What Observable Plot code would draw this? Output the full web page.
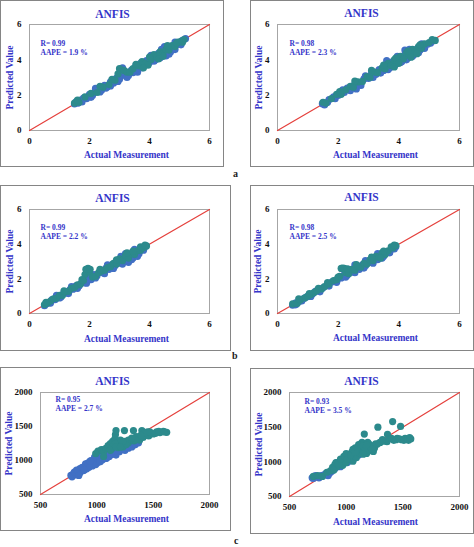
<!DOCTYPE html>
<html>
<head>
<meta charset="utf-8">
<script src="https://cdn.jsdelivr.net/npm/d3@7"></script>
<script src="https://cdn.jsdelivr.net/npm/@observablehq/plot@0.6"></script>
<style>
  body { margin: 0; background: #fff; }
  #page { position: relative; width: 474px; height: 547px; overflow: hidden; background: #fff;
          font-family: "Liberation Serif", "Times New Roman", serif; }
  .panel { position: absolute; }
  .panel svg { display: block; }
  .box { position: absolute; box-sizing: border-box; border: 1.5px solid #858585; pointer-events: none; }
  .tag { position: absolute; font-weight: bold; font-size: 10px; line-height: 10px; color: #222; }
</style>
</head>
<body>
<div id="page"></div>
<script>
// Labels shared by all six panels
const title = "ANFIS";
const xLabel = "Actual Measurement";
const yLabel = "Predicted Value";
const smallTicks = [0, 2, 4, 6];
const largeTicks = [500, 1000, 1500, 2000];
const smallDomain = [0, 6];
const largeDomain = [500, 2000];
const statsR = ["0.99", "0.98", "0.99", "0.98", "0.95", "0.93"];
const statsAAPE = ["1.9", "2.3", "2.2", "2.5", "2.7", "3.5"];
const panelTags = ["a", "b", "c"];

// Panel 1 (actual, predicted)
const p1Blue = [[1.50,1.50],[1.55,1.62],[1.62,1.55],[1.70,1.72],[1.80,1.84],[1.90,1.80],[2.00,2.04],[2.10,1.98],[2.20,2.22],[2.30,2.36],[2.40,2.28],[2.50,2.55],[2.60,2.48],[2.70,2.76],[2.80,2.68],[2.90,2.96],[3.00,2.90],[3.06,3.42],[3.10,3.12],[3.20,3.22],[3.30,3.12],[3.40,3.42],[3.50,3.46],[3.60,3.56],[3.70,3.80],[3.80,3.70],[3.90,3.96],[4.00,3.86],[4.10,4.12],[4.20,4.00],[4.30,4.36],[4.40,4.20],[4.50,4.52],[4.60,4.40],[4.70,4.66],[4.80,4.70],[4.90,4.86],[5.00,4.96],[5.10,5.10],[4.40,4.60],[3.60,3.30],[2.70,2.52],[4.55,4.22],[4.70,4.45],
  [1.75,1.62],[2.05,1.88],[2.35,2.18],[2.55,2.40],[2.95,2.78],[3.25,3.00],[3.45,3.28],[3.75,3.55],[3.95,3.75],[4.15,3.92],[4.35,4.10],[4.65,4.32],[4.85,4.58],[5.05,4.85],[3.10,3.55],[2.20,2.38],[3.55,3.70],[4.05,4.25],[4.50,4.75],[4.85,5.00],[5.20,5.20]];
const p1Teal = [[1.50,1.55],[1.65,1.60],[1.85,1.90],[2.05,2.10],[2.25,2.15],[2.45,2.45],[2.65,2.60],[2.85,2.85],[2.95,3.20],[3.00,3.50],[3.15,3.40],[3.25,3.30],[3.35,3.30],[3.45,3.50],[3.65,3.65],[3.75,3.90],[3.85,3.80],[4.05,4.00],[4.15,4.30],[4.25,4.15],[4.35,4.45],[4.45,4.35],[4.55,4.60],[4.65,4.55],[4.75,4.80],[4.85,4.75],[4.95,5.00],[5.05,5.05],[5.15,5.15],[4.30,4.05],[3.95,3.70],
  [1.60,1.72],[2.35,2.50],[2.75,2.90],[3.55,3.75],[4.00,4.15],[4.60,4.80],[4.90,4.95],[5.10,5.00],[3.80,3.55],[4.45,4.20]];

// Panel 2
const p2Blue = [[1.48,1.52],[1.55,1.45],[1.70,1.75],[1.85,1.90],[2.00,1.98],[2.20,2.15],[2.30,2.40],[2.45,2.38],[2.55,2.62],[2.70,2.65],[2.85,2.92],[3.00,2.95],[3.10,3.20],[3.25,3.18],[3.35,3.45],[3.50,3.40],[3.60,3.70],[3.70,3.55],[3.80,3.90],[3.90,3.75],[4.00,4.05],[4.10,3.90],[4.20,4.30],[4.30,4.10],[4.40,4.45],[4.50,4.30],[4.60,4.62],[4.70,4.55],[4.80,4.82],[4.95,4.88],[5.15,5.08],[3.60,3.95],[4.20,4.55],[2.60,2.35],
  [1.65,1.60],[1.90,1.80],[2.15,2.30],[2.40,2.25],[2.75,2.55],[2.90,3.10],[3.15,3.00],[3.40,3.25],[3.65,3.45],[3.85,3.65],[4.05,3.85],[4.25,4.00],[4.45,4.20],[4.65,4.40],[4.85,4.65],[5.05,4.95],[3.95,4.20],[4.35,4.60],[4.75,4.90]];
const p2Teal = [[1.50,1.60],[1.60,1.55],[1.78,1.80],[1.95,2.05],[2.10,2.05],[2.25,2.30],[2.40,2.50],[2.50,2.45],[2.65,2.75],[2.80,2.78],[2.95,3.05],[3.05,3.00],[3.20,3.30],[3.30,3.28],[3.45,3.55],[3.55,3.50],[3.65,3.80],[3.75,3.68],[3.85,4.00],[3.95,3.85],[4.05,4.20],[4.15,4.05],[4.25,4.40],[4.35,4.25],[4.45,4.60],[4.55,4.45],[4.65,4.75],[4.75,4.65],[4.85,4.90],[5.00,4.98],[5.20,5.10],[3.85,3.60],[4.40,4.15],
  [2.05,2.20],[2.55,2.80],[3.10,3.40],[3.50,3.70],[3.90,4.10],[4.30,4.50],[4.70,4.85],[5.10,5.15],[4.00,3.80],[4.60,4.35]];

// Panel 3
const p3Blue = [[0.50,0.45],[0.55,0.55],[0.65,0.62],[0.75,0.80],[0.85,0.80],[0.95,0.98],[1.05,0.95],[1.15,1.20],[1.25,1.18],[1.35,1.38],[1.45,1.40],[1.55,1.60],[1.65,1.58],[1.75,1.80],[1.85,1.78],[1.95,2.05],[2.05,1.95],[2.15,2.25],[2.25,2.18],[2.35,2.42],[2.45,2.35],[2.55,2.62],[2.65,2.55],[2.75,2.82],[2.85,2.75],[2.95,3.05],[3.05,2.90],[3.15,3.25],[3.25,3.05],[3.35,3.35],[3.45,3.20],[3.55,3.55],[3.65,3.45],[3.75,3.75],[3.85,3.85],[3.05,3.30],[3.30,2.95],[1.90,2.45],
  [0.70,0.60],[1.00,0.90],[1.30,1.15],[1.60,1.45],[1.90,1.75],[2.20,2.05],[2.50,2.30],[2.80,2.60],[3.10,2.85],[3.40,3.10],[3.60,3.30],[3.80,3.65],[3.20,3.45],[3.50,3.70],[2.60,2.80],[1.40,1.55],[0.90,1.05]];
const p3Teal = [[0.50,0.52],[0.60,0.60],[0.70,0.72],[0.80,0.85],[0.90,0.88],[1.00,1.05],[1.10,1.05],[1.20,1.25],[1.30,1.28],[1.40,1.45],[1.50,1.50],[1.60,1.65],[1.70,1.70],[1.80,1.90],[1.85,2.25],[1.95,2.60],[2.00,2.40],[2.10,2.10],[2.20,2.15],[2.30,2.35],[2.40,2.45],[2.50,2.50],[2.60,2.65],[2.70,2.70],[2.80,2.90],[2.90,2.85],[3.00,3.15],[3.10,3.05],[3.20,3.35],[3.30,3.20],[3.40,3.45],[3.50,3.40],[3.60,3.62],[3.70,3.65],[3.80,3.80],[3.90,3.90],
  [0.55,0.65],[1.15,1.30],[1.75,1.95],[1.88,2.55],[2.02,2.55],[2.35,2.55],[2.90,3.10],[3.25,3.50],[3.45,3.60],[3.70,3.85],[3.85,3.95]];

// Panel 4
const p4Blue = [[0.50,0.48],[0.60,0.62],[0.72,0.70],[0.85,0.85],[0.95,0.95],[1.05,1.05],[1.15,1.12],[1.25,1.28],[1.35,1.30],[1.50,1.48],[1.65,1.62],[1.80,1.82],[1.90,1.85],[2.00,2.02],[2.10,2.05],[2.20,2.25],[2.30,2.20],[2.40,2.45],[2.50,2.40],[2.60,2.62],[2.70,2.55],[2.80,2.80],[2.90,2.75],[3.00,3.00],[3.10,2.95],[3.20,3.20],[3.30,3.10],[3.40,3.40],[3.50,3.30],[3.60,3.55],[3.75,3.70],[3.90,3.85],[2.55,2.80],
  [0.60,0.50],[0.80,0.72],[1.10,0.98],[1.40,1.25],[1.70,1.58],[1.95,1.80],[2.25,2.10],[2.55,2.35],[2.85,2.62],[3.15,2.90],[3.45,3.20],[3.70,3.50],[3.85,3.72],[3.30,3.45],[2.90,3.05],[2.35,2.55]];
const p4Teal = [[0.50,0.55],[0.65,0.58],[0.75,0.78],[0.90,0.90],[1.00,1.00],[1.10,1.10],[1.20,1.20],[1.30,1.32],[1.45,1.42],[1.55,1.55],[1.70,1.70],[1.85,1.90],[1.95,1.95],[2.05,2.15],[2.10,2.60],[2.20,2.60],[2.25,2.35],[2.35,2.30],[2.45,2.55],[2.55,2.50],[2.65,2.70],[2.75,2.68],[2.85,2.90],[2.95,2.85],[3.05,3.10],[3.15,3.05],[3.25,3.30],[3.35,3.25],[3.45,3.50],[3.55,3.40],[3.65,3.62],[3.80,3.78],[3.90,3.92],[3.40,3.20],
  [0.70,0.85],[1.05,1.15],[1.35,1.45],[1.65,1.78],[2.00,2.10],[2.15,2.62],[2.30,2.58],[2.60,2.82],[3.10,3.25],[3.50,3.60],[3.75,3.85],[3.85,3.95]];

// Panel 5
const p5Blue = [[770,780],[790,800],[810,790],[830,830],[850,820],[860,860],[880,850],[900,890],[910,930],[930,900],[950,950],[960,920],[980,980],[1000,960],[1000,1020],[1020,1000],[1040,1050],[1050,1010],[1070,1060],[1090,1040],[1100,1100],[1120,1080],[1140,1120],[1160,1100],[1180,1150],[1200,1130],[1230,1170],[1260,1190],[1290,1210],[1320,1240],[1000,1080],[1050,1120],[950,1000],[1130,1200],[900,950],[850,880],
  [780,760],[800,830],[820,860],[840,780],[870,900],[890,860],[910,880],[920,960],[940,920],[970,1000],[990,940],[1010,1050],[1030,980],[1060,1100],[1080,1030],[1110,1060],[1130,1090],[1150,1150],[1170,1080],[1210,1160],[1250,1150],[1280,1180],[1310,1200],[1340,1230],[1370,1260],[1060,1160],[1020,1120],[980,1050],[940,990],[1090,1140]];
const p5Teal = [[990,1100],[1010,1140],[1040,1160],[1060,1130],[1080,1180],[1100,1220],[1120,1250],[1140,1280],[1160,1320],[1165,1380],[1170,1440],[1180,1260],[1200,1220],[1220,1250],[1245,1440],[1250,1280],[1280,1260],[1300,1300],[1325,1440],[1330,1290],[1360,1320],[1380,1300],[1400,1440],[1410,1340],[1440,1370],[1460,1360],[1480,1400],[1500,1390],[1530,1420],[1560,1410],[1590,1430],[1620,1415],[1450,1420],[1350,1350],[1230,1200],[1130,1170],[1060,1060],[1190,1190],
  [1190,1250],[1210,1300],[1160,1250],[1140,1200],[1100,1180],[1420,1400],[1470,1420],[1520,1400],[1550,1430],[1600,1420],[1390,1370],[1340,1300],[1280,1300],[1260,1230],[1310,1330],[1230,1280],[1120,1150],[1170,1200],[1210,1200]];

// Panel 6
const p6Blue = [[700,770],[720,780],[740,790],[760,770],[780,800],[800,810],[820,830],[840,800],[860,850],[880,880],[900,900],[930,940],[960,960],[990,1000],[1020,1010],[1050,1060],[1080,1090],[1110,1100],[920,990],[1000,1080],
  [710,760],[730,800],[770,780],[850,830],[870,860],[950,930],[1010,990],[1040,1020],[1070,1050],[940,1000],[980,1030],[1060,1120],[1120,1160]];
const p6Teal = [[710,790],[750,800],[790,790],[830,850],[860,870],[880,920],[900,960],[920,930],[940,990],[960,1010],[970,950],[990,1060],[1000,990],[1020,1100],[1030,1040],[1050,1140],[1060,1010],[1070,1100],[1080,1200],[1090,1060],[1100,1150],[1110,1250],[1120,1120],[1130,1200],[1140,1280],[1150,1160],[1160,1400],[1170,1230],[1180,1120],[1190,1200],[1200,1260],[1210,1160],[1230,1230],[1250,1200],[1270,1250],[1280,1500],[1300,1280],[1330,1300],[1365,1395],[1380,1330],[1410,1580],[1420,1310],[1450,1340],[1480,1510],[1490,1320],[1520,1340],[1550,1310],[1570,1330],[1360,1290],[1240,1150],
  [890,880],[910,990],[930,970],[950,1040],[980,1080],[1000,1120],[1010,1040],[1040,1100],[1060,1180],[1080,1140],[1100,1210],[1130,1250],[1150,1230],[1170,1180],[1190,1280],[1220,1200],[1180,1240],[1260,1260],[1290,1270],[1320,1320],[1400,1340],[1440,1320],[1470,1330],[1510,1310],[1540,1330],[1560,1350],[1230,1180],[1150,1110]];

const BLUE = "#4170c4";
const TEAL = "#2c8a8c";
const INK = "#3535c9";

// Page layout of each panel: outer box, plot area, and label anchor points (page px)
const layout = [
  {frame:[0,0,223,166],     plot:[29,24,209,130],   titleX:112, titleY:14,  xlX:126, xlY:154, ylX:9,   statX:40,  statY:43,  r:3.6},
  {frame:[250,0,473,166],   plot:[277,24,459,130],  titleX:361, titleY:13,  xlX:375, xlY:154, ylX:258, statX:289, statY:43,  r:3.6},
  {frame:[0,185,230,350],   plot:[29,209,209,313],  titleX:112, titleY:198, xlX:126, xlY:338, ylX:9,   statX:40,  statY:227, r:3.6},
  {frame:[250,185,473,350], plot:[277,209,459,313], titleX:361, titleY:197, xlX:375, xlY:337, ylX:257, statX:289, statY:227, r:3.6},
  {frame:[0,367,230,530],   plot:[40,392,209,494],  titleX:112, titleY:381, xlX:126, xlY:518, ylX:8,   statX:55,  statY:399, r:3.6},
  {frame:[250,368,473,533], plot:[289,392,459,496], titleX:361, titleY:381, xlX:375, xlY:521, ylX:258, statX:304, statY:401, r:3.6}
];
const series = [[p1Blue,p1Teal],[p2Blue,p2Teal],[p3Blue,p3Teal],[p4Blue,p4Teal],[p5Blue,p5Teal],[p6Blue,p6Teal]];

const page = document.getElementById("page");

layout.forEach((L, i) => {
  const [fl, ft, fr, fb] = L.frame;
  const [pl, pt, pr, pb] = L.plot;
  const domain = i < 4 ? smallDomain : largeDomain;
  const ticks = i < 4 ? smallTicks : largeTicks;
  const diag = [[domain[0], domain[0]], [domain[1], domain[1]]];
  const [blue, teal] = series[i];
  const cx = (pl + pr) / 2;
  const font = {fontFamily: "'Liberation Serif','Times New Roman',serif", fontWeight: "bold"};

  const chart = Plot.plot({
    width: fr - fl,
    height: fb - ft,
    marginLeft: pl - fl,
    marginRight: fr - pr,
    marginTop: pt - ft,
    marginBottom: fb - pb,
    style: {background: "transparent", color: "#111", fontFamily: font.fontFamily, fontWeight: "bold", fontSize: "9px"},
    x: {domain, ticks, tickFormat: d => String(d), tickSize: 0, tickPadding: 7, label: null},
    y: {domain, ticks, tickFormat: d => String(d), tickSize: 0, tickPadding: 8, label: null},
    marks: [
      Plot.frame({stroke: "#a6a6a6", strokeWidth: 1}),
      Plot.line(diag, {x: d => d[0], y: d => d[1], stroke: "#e5403c", strokeWidth: 1.2}),
      Plot.dot(blue, {x: d => d[0], y: d => d[1], r: L.r, fill: BLUE}),
      Plot.dot(teal, {x: d => d[0], y: d => d[1], r: L.r, fill: TEAL}),
      Plot.text([title], {frameAnchor: "top", text: d => d, lineAnchor: "middle", textAnchor: "middle",
        dx: L.titleX - cx, dy: L.titleY - pt, fill: INK, fontSize: 11.5, ...font}),
      Plot.text([xLabel], {frameAnchor: "bottom", text: d => d, lineAnchor: "middle", textAnchor: "middle",
        dx: L.xlX - cx, dy: L.xlY - pb, fill: INK, fontSize: 9.5, ...font}),
      Plot.text([yLabel], {frameAnchor: "left", text: d => d, lineAnchor: "middle", textAnchor: "middle",
        dx: L.ylX - pl, rotate: -90, fill: INK, fontSize: 9.5, ...font}),
      Plot.text([`R= ${statsR[i]}`], {frameAnchor: "top-left", text: d => d, textAnchor: "start", lineAnchor: "middle",
        dx: L.statX - pl, dy: L.statY - pt, fill: INK, fontSize: 7.5, ...font}),
      Plot.text([`AAPE = ${statsAAPE[i]} %`], {frameAnchor: "top-left", text: d => d, textAnchor: "start", lineAnchor: "middle",
        dx: L.statX - pl, dy: L.statY + 9 - pt, fill: INK, fontSize: 7.5, ...font})
    ]
  });

  const holder = document.createElement("div");
  holder.className = "panel";
  holder.style.left = fl + "px";
  holder.style.top = ft + "px";
  holder.appendChild(chart);
  page.appendChild(holder);

  const box = document.createElement("div");
  box.className = "box";
  box.style.left = fl + "px";
  box.style.top = ft + "px";
  box.style.width = (fr - fl + 1) + "px";
  box.style.height = (fb - ft + 1) + "px";
  page.appendChild(box);
});

// Row tags under each pair of panels
[[233,169],[232,351],[234,536]].forEach(([x, y], k) => {
  const t = document.createElement("div");
  t.className = "tag";
  t.style.left = x + "px";
  t.style.top = y + "px";
  t.textContent = panelTags[k];
  page.appendChild(t);
});
</script>
</body>
</html>
